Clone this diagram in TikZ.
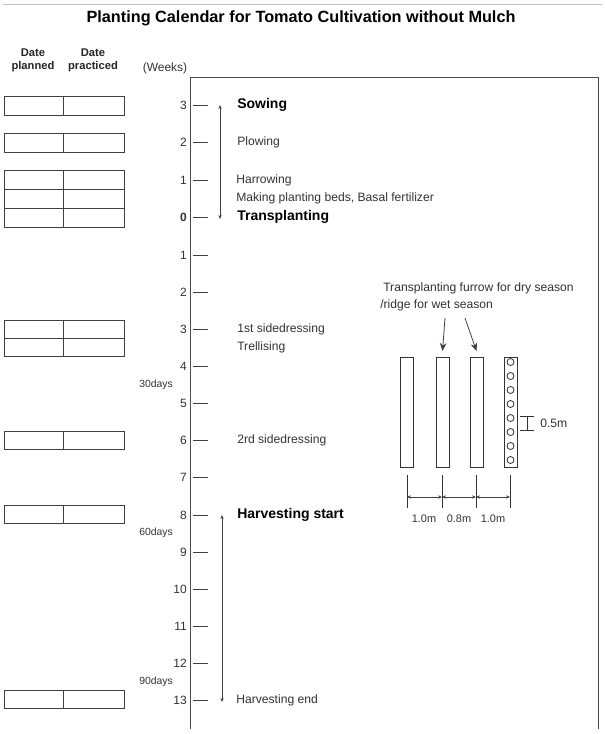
\documentclass[tikz,border=0pt]{standalone}
\usepackage{fontspec}
\setmainfont{Liberation Sans}
\usetikzlibrary{arrows.meta,calc}
\begin{document}
\begin{tikzpicture}[x=0.75pt,y=-0.75pt,
  lab/.style={font=\fontsize{9.1}{11}\selectfont, text=black!80, inner sep=0pt, anchor=west},
  blab/.style={lab, font=\fontsize{10.5}{12}\selectfont\bfseries, text=black},
  num/.style={font=\fontsize{9}{11}\selectfont, text=black!80, inner sep=0pt, anchor=east},
  cell/.style={draw=black!75, line width=0.6pt},
  frame/.style={draw=black!70, line width=0.6pt},
  tk/.style={draw=black!75, line width=0.6pt},
  arr/.style={draw=black!75, line width=0.5pt, -{Stealth[length=3pt,width=2.5pt]}},
  bed/.style={draw=black!80, line width=0.6pt}]
\useasboundingbox (0,0) rectangle (605,734);
\fill[white] (0,0) rectangle (605,734);
\draw[black!25] (3,4) -- (602,4);
\draw[frame] (190,729) -- (190,77) -- (598,77) -- (598,729);
\node[font=\fontsize{12.2}{14}\selectfont\bfseries] (title) at (301,18) {Planting Calendar for Tomato Cultivation without Mulch};
\node[font=\fontsize{8.4}{10}\selectfont\bfseries, align=center, text=black!85] (hp) at (33,60) {Date\\planned};
\node[font=\fontsize{8.4}{10}\selectfont\bfseries, align=center, text=black!85] (hq) at (93,60) {Date\\practiced};
\node[font=\fontsize{9}{11}\selectfont, text=black!80] (wk) at (165,68) {(Weeks)};
% week ticks
\foreach \n/\y [count=\i] in {3/105,2/142,1/180,0/217,1/255,2/292,3/329,4/366,5/403,6/440,7/477,8/515,9/552,10/589,11/626,12/663,13/700}{
  \node[num] (w\i) at (187,\y) {\ifnum\i=4 \textbf{\n}\else\n\fi};
  \draw[tk] (193,\y) -- (208,\y);
}
% table cells
\foreach \a/\b [count=\i] in {96/115,133/152,170/189,189/208,208/227,320/338,338/356,431/449,505/523,690/708}{
  \draw[cell] (4,\a) rectangle (63,\b);
  \draw[cell] (63,\a) rectangle (124,\b);
}
% arrows
\coordinate (a1) at (220,105); \coordinate (a2) at (220,219);
\draw[arr,{Stealth[length=3pt,width=2.5pt]}-{Stealth[length=3pt,width=2.5pt]}] (a1) -- (a2);
\coordinate (b1) at (222,515); \coordinate (b2) at (222,702);
\draw[arr,{Stealth[length=3pt,width=2.5pt]}-{Stealth[length=3pt,width=2.5pt]}] (b1) -- (b2);
% labels
\node[blab] (s) at (237,105) {Sowing};
\node[lab] (p) at (237,142) {Plowing};
\node[lab] (h) at (236,180) {Harrowing};
\node[lab] (m) at (236,198) {Making planting beds, Basal fertilizer};
\node[blab] (t) at (237,217) {Transplanting};
\node[lab] (s1) at (237,329) {1st sidedressing};
\node[lab] (tr) at (237,347) {Trellising};
\node[lab] (s2) at (237,440) {2rd sidedressing};
\node[blab] (hs) at (237,515) {Harvesting start};
\node[lab] (he) at (236,700) {Harvesting end};
\node[lab, font=\fontsize{7.8}{9}\selectfont] (d30) at (139,385) {30days};
\node[lab, font=\fontsize{7.8}{9}\selectfont] (d60) at (139,533) {60days};
\node[lab, font=\fontsize{7.8}{9}\selectfont] (d90) at (139,682) {90days};
% bed diagram
\node[lab] (f1) at (383,288) {Transplanting furrow for dry season};
\node[lab] (f2) at (380,305) {/ridge for wet season};
\foreach \x [count=\i] in {400,436,470,504}{
  \draw[bed] (\x,357) rectangle ++(13,110);
  \coordinate (c\i) at (\x+6.5,351);
}
\foreach \k in {0,...,7} \draw[bed] (510.5,362+14*\k) circle (3.5);
\coordinate (r1) at (445,318); \coordinate (r2) at (465,318);
\draw[arr,line width=0.6pt,-{Stealth[length=6pt,width=5pt]}] (r1) -- (c2);
\draw[arr,line width=0.6pt,-{Stealth[length=6pt,width=5pt]}] (r2) -- (c3);
% 0.5m
\draw[bed] (520,416) -- (534,416) (520,430) -- (534,430) (527,416) -- (527,430);
\node[lab] (half) at (540,423) {0.5m};
% dimensions
\foreach \x in {407,442,476,510} \draw[bed] (\x,475) -- (\x,508);
\draw[arr,{Stealth[length=3pt,width=2.5pt]}-{Stealth[length=3pt,width=2.5pt]}] (407,497) -- (442,497);
\draw[arr,{Stealth[length=3pt,width=2.5pt]}-{Stealth[length=3pt,width=2.5pt]}] (442,497) -- (476,497);
\draw[arr,{Stealth[length=3pt,width=2.5pt]}-{Stealth[length=3pt,width=2.5pt]}] (476,497) -- (510,497);
\node[font=\fontsize{8.2}{10}\selectfont, text=black!80] (m1) at (424,519) {1.0m};
\node[font=\fontsize{8.2}{10}\selectfont, text=black!80] (m2) at (459,519) {0.8m};
\node[font=\fontsize{8.2}{10}\selectfont, text=black!80] (m3) at (493,519) {1.0m};
\end{tikzpicture}
\end{document}
